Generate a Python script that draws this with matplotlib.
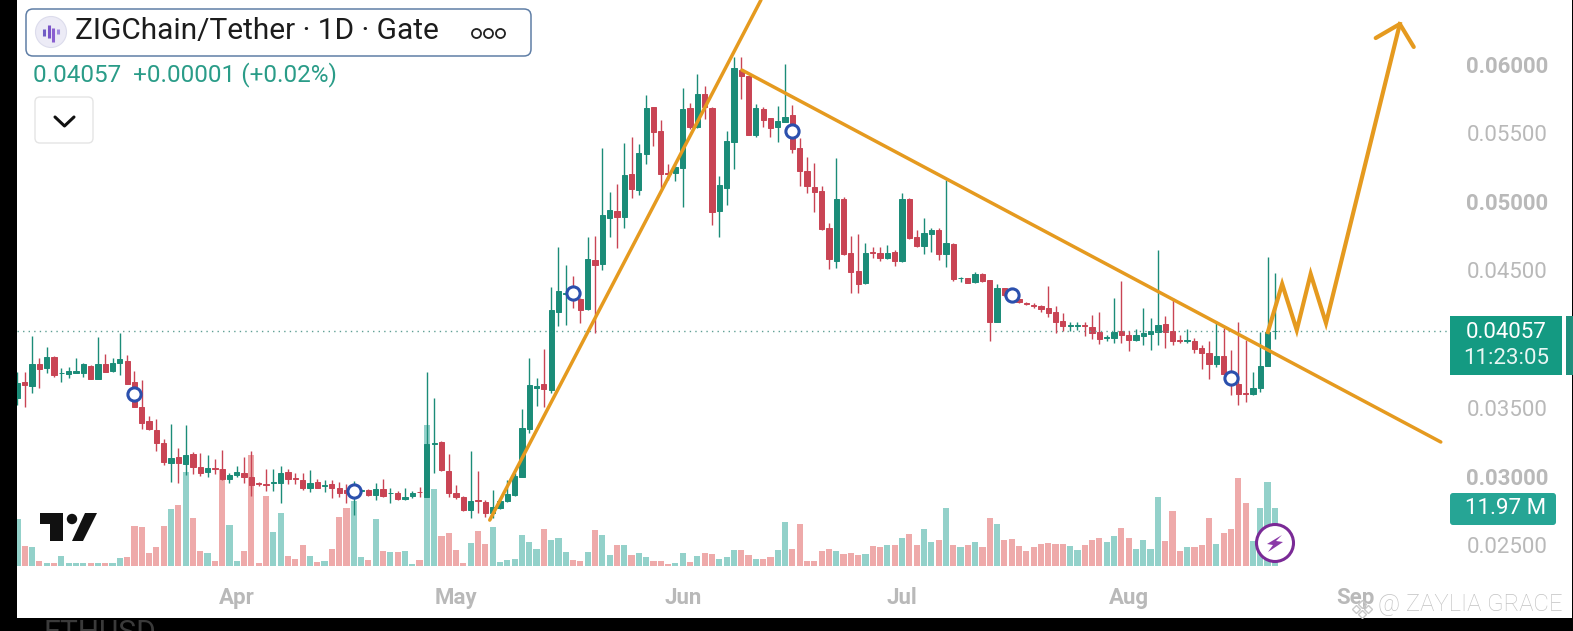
import numpy as np
import matplotlib
matplotlib.use('Agg')
import matplotlib.pyplot as plt
from matplotlib.patches import FancyBboxPatch, Polygon, Circle, Rectangle

plt.rcParams['font.family'] = ['Roboto', 'DejaVu Sans']

# prices in 1e-5 USDT, one candle per day starting 2 Mar
opens = [3568,3685,3658,3816,3791,3871,3750,3748,3755,3750,
         3806,3709,3816,3767,3823,3837,3685,3508,3401,3338,
         3241,3096,3139,3091,3164,3071,3033,3059,3054,2982,
         3011,3028,2994,2950,2943,2952,2952,3035,2991,2972,
         2919,2957,2928,2943,2919,2902,2865,2895,2902,2868,
         2911,2877,2882,2839,2861,2890,2853,3239,3248,3042,
         2882,2853,2756,2827,2817,2737,2768,2819,2865,2999,
         3343,3646,3670,3629,4199,4325,4360,4289,4216,4575,
         4546,4883,4929,4890,5198,5084,5346,5685,5513,5208,
         5210,5246,5678,5540,5780,5678,4931,5101,5435,5957,
         5915,5481,5670,5605,5544,5581,5629,5387,5222,5106,
         5074,4805,4568,5018,4623,4495,4408,4633,4623,4589,
         4633,4570,5018,4740,4679,4766,4793,4621,4689,4442,
         4442,4417,4470,4429,4126,4369,4330,4289,4264,4247,
         4242,4223,4194,4129,4095,4095,4102,4090,4053,4007,
         4010,4056,4032,3993,4024,4036,4053,4109,4056,3993,
         3983,3988,3932,3901,3818,3874,3746,3673,3607,3598,
         3646,3806,4056]
closes = [3682,3665,3816,3782,3866,3738,3755,3767,3765,3816,
          3709,3816,3762,3823,3852,3673,3508,3387,3343,3246,
          3103,3132,3096,3159,3071,3023,3059,3052,2982,3013,
          3030,2996,2936,2945,2938,2957,3028,2984,2984,2916,
          2955,2919,2938,2919,2880,2878,2902,2905,2868,2909,
          2861,2882,2836,2853,2882,2885,3234,3246,3047,2882,
          2853,2756,2822,2822,2737,2781,2824,2870,3006,3350,
          3663,3661,3634,4211,4349,4335,4290,4211,4580,4538,
          4902,4938,4888,5193,5089,5351,5678,5508,5200,5203,
          5249,5670,5540,5780,5685,4926,5120,5440,5969,5915,
          5484,5678,5595,5537,5583,5617,5382,5225,5113,5069,
          4800,4582,5018,4618,4490,4400,4623,4623,4589,4628,
          4565,5018,4732,4677,4769,4793,4618,4696,4434,4446,
          4410,4471,4422,4126,4369,4320,4290,4269,4252,4240,
          4216,4189,4126,4095,4100,4100,4092,4046,4000,4012,
          4051,4029,3993,4027,4041,4056,4104,4051,3988,3986,
          3990,3930,3896,3818,3874,3746,3690,3600,3603,3646,
          3806,4049,4057]
highs = [3760,3762,4022,3859,3939,3876,3786,3799,3859,3828,
         3811,4012,3888,3859,4046,3883,3767,3702,3440,3416,
         3270,3382,3205,3372,3176,3173,3156,3125,3193,3028,
         3076,3139,3188,2962,3052,3052,3079,3052,3028,3028,
         3047,2979,2974,2974,2962,2945,2970,2910,2909,2955,
         2979,2914,2897,2914,2894,2926,3762,3573,3260,3161,
         2938,2858,3188,3042,2829,2902,2829,2974,3023,3488,
         3864,3714,3927,4376,4672,4538,4459,4296,4745,4749,
         5387,5067,5125,5428,5467,5416,5775,5690,5593,5273,
         5278,5823,5719,5927,5840,5685,5186,5513,6054,6049,
         5915,5707,5685,5610,5695,6000,5702,5460,5321,5278,
         5113,4846,5314,5035,4749,4764,4696,4672,4672,4681,
         4648,5060,5023,4793,4878,4810,4805,5157,4696,4454,
         4446,4490,4478,4429,4400,4369,4340,4300,4269,4259,
         4247,4386,4242,4192,4126,4124,4121,4175,4194,4029,
         4296,4424,4061,4070,4223,4150,4647,4167,4296,4029,
         4070,4005,3956,3988,4133,4078,3920,4126,3993,3758,
         4053,4599,4482]
lows = [3520,3503,3605,3641,3750,3726,3690,3714,3750,3721,
        3706,3706,3757,3762,3738,3673,3503,3343,3338,3185,
        3084,2962,2950,3011,3018,3004,2994,3018,2974,2950,
        2999,2950,2858,2933,2894,2894,2805,2945,2943,2902,
        2890,2914,2890,2846,2848,2805,2720,2885,2861,2829,
        2848,2805,2829,2829,2846,2853,2853,3023,3042,2848,
        2836,2749,2700,2732,2708,2696,2764,2817,2861,2994,
        3314,3513,3503,3605,4095,4102,4223,4119,4211,4042,
        4502,4740,4665,4810,5023,5048,5273,5404,5101,5157,
        5149,4958,5530,5532,5598,4829,4745,4975,5237,5743,
        5484,5467,5540,5467,5431,5581,5351,5113,5065,4921,
        4793,4509,4519,4611,4332,4332,4400,4587,4570,4582,
        4531,4563,4728,4667,4618,4631,4575,4522,4425,4417,
        4405,4410,4417,3988,4126,4313,4280,4260,4247,4225,
        4199,4158,4046,4061,4061,4066,4024,3998,3964,3988,
        3973,3969,3913,3988,3956,3920,3956,3932,3956,3969,
        3969,3896,3782,3707,3799,3738,3593,3520,3540,3593,
        3617,3806,3998]
# volume in millions
volumes = [9.6,4.2,4.0,1.1,0.7,0.7,2.1,0.55,0.55,0.55,
           0.55,0.7,0.7,0.7,1.7,1.9,8.3,8.1,2.6,4.0,
           8.3,11.8,12.5,19.3,10.0,3.2,2.6,1.0,20.0,8.4,
           1.1,3.2,22.9,0.55,14.4,7.1,10.9,2.1,1.5,4.3,
           2.1,0.8,1.1,3.6,10.2,12.0,13.3,1.8,1.2,9.6,
           3.0,2.8,2.8,3.0,0.35,1.2,29.0,15.8,6.1,6.9,
           3.4,0.55,4.7,7.3,4.5,8.0,0.8,1.2,1.5,6.3,
           5.0,3.5,7.6,5.3,5.8,2.9,1.3,1.0,2.9,7.4,
           6.3,2.3,4.4,4.4,2.3,2.75,1.9,1.1,1.1,0.4,
           0.6,2.75,0.8,2.1,2.7,2.5,1.4,1.9,3.3,3.3,
           2.3,1.4,1.4,1.9,3.3,9.1,3.5,8.7,1.0,1.0,
           3.1,3.5,3.1,2.5,2.7,2.3,2.5,4.1,3.9,4.3,
           4.3,5.8,6.7,4.3,7.6,5.0,5.4,12.0,4.3,3.9,
           4.3,5.0,3.9,10.0,8.7,5.4,5.6,4.1,3.1,3.9,
           4.5,4.7,4.5,4.5,4.1,3.3,4.3,5.4,5.8,5.0,
           6.2,7.8,5.8,3.5,5.4,3.5,14.3,5.2,11.4,3.1,
           3.9,3.9,4.3,10.0,4.5,6.8,7.7,18.2,13.0,5.2,
           12.0,17.3,12.0]

month_days = [30, 60, 91, 121, 152, 183]
month_labels = ['Apr', 'May', 'Jun', 'Jul', 'Aug', 'Sep']
price_ticks = [6000, 5500, 5000, 4500, 3500, 3000, 2500]
price_labels = ['0.06000', '0.05500', '0.05000', '0.04500', '0.03500', '0.03000', '0.02500']
bold_labels = ['0.06000', '0.05000', '0.03000']

marker_days = [16, 46, 76, 106, 136, 166]
marker_prices = [3600, 2894, 4335, 5513, 4320, 3716]

trend_up_x, trend_up_y = [64.6, 101.7], [2683, 6465]
trend_down_x, trend_down_y = [99.1, 194.7], [5956, 3251]
zigzag_x = [171.05, 173.0, 175.0, 176.9, 179.0, 189.1]
zigzag_y = [4051, 4400, 4065, 4473, 4116, 6291]
head_x = [185.8, 189.1, 191.0]
head_y = [6189, 6291, 6124]

last_price = 4057
GREEN, RED = '#1b8c78', '#c94454'
VGREEN, VRED = '#93d1ca', '#eeaaaa'
ORANGE = '#e59a1f'
GREY = '#b9b9b9'

opens, closes = np.array(opens) / 1e5, np.array(closes) / 1e5
highs, lows = np.array(highs) / 1e5, np.array(lows) / 1e5
days = np.arange(len(opens))
up = closes >= opens
colors = np.where(up, GREEN, RED)

fig = plt.figure(figsize=(15.73, 6.31), dpi=100, facecolor='black')
ax = fig.add_axes([17 / 1573, 1 - 618 / 631, 1555 / 1573, 618 / 631])
vol = ax.twinx()
ax.set_zorder(vol.get_zorder() + 1)
ax.patch.set_visible(False)
vol.patch.set_visible(True)
vol.patch.set_facecolor('white')

vol.bar(days, volumes, width=0.84, color=np.where(up, VGREEN, VRED), linewidth=0)
vol.set_ylim(-10.7, 116.6)
vol.yaxis.set_visible(False)

ax.axhline(last_price / 1e5, xmax=0.92, color='#5f9f94', lw=1, ls=(0, (1, 3)))
ax.vlines(days, lows, highs, colors=colors, lw=1)
ax.bar(days, np.abs(closes - opens), bottom=np.minimum(opens, closes), width=0.72,
       color=colors, edgecolor=colors, linewidth=0.7)

ax.plot(trend_up_x, np.array(trend_up_y) / 1e5, color=ORANGE, lw=2.5, solid_capstyle='round')
ax.plot(trend_down_x, np.array(trend_down_y) / 1e5, color=ORANGE, lw=2.5, solid_capstyle='round')
ax.plot(zigzag_x, np.array(zigzag_y) / 1e5, color=ORANGE, lw=3, solid_joinstyle='miter')
ax.plot(head_x, np.array(head_y) / 1e5, color=ORANGE, lw=3, solid_capstyle='round')
ax.plot(marker_days, np.array(marker_prices) / 1e5, ls='none', marker='o', ms=9.5, mfc='white',
        mec='#2b50ad', mew=2.2)

ax.set_xlim(-0.068, 212.65)
ax.set_ylim(0.01971, 0.064655)
ax.set_xticks(month_days)
ax.set_xticklabels(month_labels, color=GREY, fontsize=16, fontweight='bold')
ax.yaxis.tick_right()
ax.set_yticks(np.array(price_ticks) / 1e5)
ax.set_yticklabels(price_labels, color=GREY, fontsize=16)
for lab in ax.get_yticklabels():
    lab.set_horizontalalignment('left')
    if lab.get_text() in bold_labels:
        lab.set_fontweight('bold')
ax.tick_params(axis='y', length=0, pad=-76)
ax.tick_params(axis='x', length=0, pad=-22)
for s in ax.spines.values():
    s.set_visible(False)
for s in vol.spines.values():
    s.set_visible(False)

# screen furniture, in image pixels
ui = fig.add_axes([0, 0, 1, 1], zorder=10)
ui.set_xlim(0, 1573)
ui.set_ylim(631, 0)
ui.axis('off')

ui.add_patch(FancyBboxPatch((26, 9), 505, 47, boxstyle='round,pad=0,rounding_size=7',
                            fc='white', ec='#5f7ea6', lw=1.1))
ui.add_patch(Circle((51, 32), 15.5, fc='#ecebf6', ec='#dcdcec', lw=0.8))
for bx, by0, by1, bc in [(44, 29, 36, '#6f5cc4'), (48.5, 25, 38, '#7a55c8'), (53, 28, 42, '#8a5fd0'), (57.5, 29, 34, '#a08ade')]:
    ui.plot([bx, bx], [by0, by1], color=bc, lw=2.2, solid_capstyle='butt')
ui.text(75, 31, 'ZIGChain/Tether · 1D · Gate', fontsize=21.5, color='#1c1c1c', va='center', ha='left')
ui.plot([476, 488, 500], [33, 33, 33], ls='none', marker='o', ms=6.5, mfc='white', mec='#222222', mew=1.3)
ui.text(33, 75, '0.04057  +0.00001 (+0.02%)', fontsize=17.5, color='#2a9c88', va='center', ha='left')
ui.add_patch(FancyBboxPatch((35, 97), 58, 46, boxstyle='round,pad=0,rounding_size=5',
                            fc='white', ec='#e4e4e4', lw=1))
ui.plot([55, 64.5, 74], [117, 126, 117], color='#111111', lw=2.2, solid_capstyle='round')

ui.add_patch(Rectangle((1450, 316), 112, 59, fc='#149a82', ec='none'))
ui.add_patch(Rectangle((1566, 316), 7, 59, fc='#1f8f7c', ec='none'))
ui.text(1506, 333, '0.04057', color='white', fontsize=16, ha='center', va='center')
ui.text(1506, 358, '11:23:05', color='#e8f6f3', fontsize=16, ha='center', va='center')
ui.add_patch(FancyBboxPatch((1450, 493), 106, 32, boxstyle='round,pad=0,rounding_size=3',
                            fc='#26a595', ec='none'))
ui.text(1506, 509, '11.97 M', color='white', fontsize=16, ha='center', va='center')

# tradingview mark
ui.add_patch(Polygon([(40, 513), (63, 513), (63, 541), (50, 541), (50, 524), (40, 524)], fc='#111111', ec='none'))
ui.add_patch(Circle((72, 519), 5.2, fc='#111111', ec='none'))
ui.add_patch(Polygon([(85, 513), (97, 513), (83, 541), (72, 541)], fc='#111111', ec='none'))

# lightning badge
ui.add_patch(Circle((1275, 543), 18.5, fc='white', ec='#7a2a96', lw=2.2))
ui.add_patch(Polygon([(1282, 535), (1267, 544), (1273, 545), (1268, 552), (1283, 542), (1276, 541)],
                     fc='#8b3aa8', ec='none'))

# watermark over the Sep label
for wx, wy in [(1362, 604), (1356, 609), (1368, 609), (1362, 614)]:
    ui.plot([wx], [wy], marker='D', ms=4, mfc='none', mec='#c8c8c8', mew=1)
ui.text(1378, 605, '@ ZAYLIA GRACE', color='#c2c2c2', fontsize=17.2, ha='left', va='center', fontweight='light')

# tab label cut by the bottom edge, as in the screenshot
ui.text(43, 619, 'ETHUSD', color='#3a3a3a', fontsize=21.5, ha='left', va='top', clip_on=True)

fig.savefig('out.png', dpi=100, facecolor=fig.get_facecolor())
